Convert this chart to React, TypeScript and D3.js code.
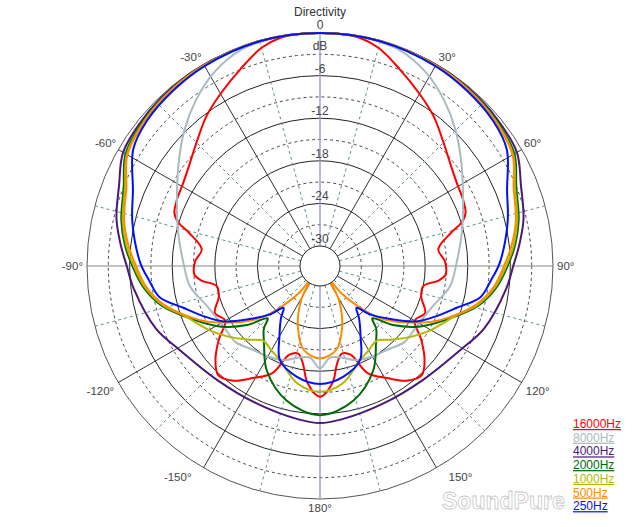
import React from "react";
import * as d3 from "d3";

// dB readings per angle (deg, 0 = front, clockwise), right half; the plot is mirrored
const red16k: [number, number][] = [
  [0, 0], [5, 0], [10, -0.2], [15, -1.0], [22, -2.9], [30, -4.8], [37, -6.3], [44, -8.0], [52, -9.5],
  [59, -10.3], [65, -10.6], [70, -11.0], [73, -12.0], [76, -13.9], [82, -16.0], [88, -15.2],
  [94, -15.1], [97, -16.0], [101, -18.0], [107, -17.9], [114, -16.6], [120, -17.4], [126, -15.2],
  [132, -13.0], [137, -11.8], [143, -12.6], [149, -14.4], [156, -16.3], [161, -19.6], [166, -20.1],
  [170, -18.9], [174, -16.2], [180, -14.4],
];
const gray8k: [number, number][] = [
  [0, 0], [6, 0], [12, -0.05], [20, -0.4], [29, -1.8], [37, -3.7], [45, -5.8], [54, -8.2], [64, -10.4],
  [76, -12.2], [89, -13.6], [99, -14.3], [110, -16.0], [124, -16.8], [132, -16.8], [140, -17.6],
  [148, -18.0], [159, -18.6], [167, -19.6], [174, -19.8], [180, -18.4],
];
const purple4k: [number, number][] = [
  [0, 0], [15, 0], [30, -0.1], [40, -0.2], [50, -0.4], [60, -0.8], [68, -2.3], [77, -3.4], [84, -4.6],
  [90, -5.6], [97, -6.4], [111, -8.1], [121, -9.8], [138, -11.2], [155, -11.5], [172, -11.0], [180, -10.7],
];
const green2k: [number, number][] = [
  [0, 0], [15, 0], [30, -0.15], [40, -0.3], [50, -0.6], [60, -1.2], [68, -3.0], [77, -4.1], [84, -5.2],
  [90, -6.4], [97, -7.8], [104, -9.8], [110, -12.3], [121, -16.3], [129, -19.6], [135, -22.4],
  [138, -21.0], [144, -19.4], [153, -16.3], [166, -13.3], [180, -11.8],
];
const yellow1k: [number, number][] = [
  [0, 0], [15, 0], [30, -0.2], [40, -0.35], [50, -0.7], [60, -1.4], [68, -3.2], [77, -4.3], [84, -5.4],
  [90, -6.6], [97, -8.0], [104, -10.0], [110, -12.4], [121, -15.0], [128, -16.6], [136, -18.4],
  [143, -19.6], [150, -19.1], [157, -18.4], [169, -16.0], [180, -15.1],
];
const orange500: [number, number][] = [
  [0, 0], [15, 0], [30, -0.2], [40, -0.4], [50, -0.8], [60, -1.5], [68, -3.4], [77, -4.5], [84, -5.7],
  [90, -6.9], [97, -8.2], [104, -10.2], [110, -12.6], [116, -15.0], [122, -17.8], [127, -19.9],
  [132, -22.1], [137, -25.2], [142, -28.0], [146, -31], [149, -28.5], [152, -26.9], [160, -23.7],
  [169, -20.8], [180, -19.8],
];
const blue250: [number, number][] = [
  [0, 0], [15, -0.05], [30, -0.3], [40, -0.6], [50, -1.0], [58, -1.8], [68, -4.4], [77, -5.7], [89, -7.5],
  [95, -8.7], [101, -9.8], [107, -12.7], [114, -15.2], [120, -17.2], [127, -20.4], [134, -23.0],
  [139, -25.0], [143, -23.7], [150, -21.4], [157, -18.4], [168, -16.9], [180, -16.2],
];

const seriesNames = ["16000Hz", "8000Hz", "4000Hz", "2000Hz", "1000Hz", "500Hz", "250Hz"];
const seriesData = [red16k, gray8k, purple4k, green2k, yellow1k, orange500, blue250];
const seriesColors = ["#ff0000", "#a9bbc0", "#4b1878", "#006a00", "#b4b800", "#ff8c00", "#0010ff"];

const dbTicks = [-6, -12, -18, -24, -30];
const angleTicks = [0, 30, 60, 90, 120, 150, 180, -150, -120, -90, -60, -30];

const cx = 320;
const cy = 266;
const R = 233;
const font = "'Liberation Sans', Arial, sans-serif";

const rScale = d3.scaleLinear().domain([-30, 0]).range([20, R]);

const polar = (deg: number, r: number) => {
  const a = (deg * Math.PI) / 180;
  return [cx + r * Math.sin(a), cy - r * Math.cos(a)];
};

const mirror = (half: [number, number][]) => [
  ...half,
  ...half.slice(1, -1).reverse().map(([a, v]) => [360 - a, v] as [number, number]),
];

const line = d3
  .lineRadial<[number, number]>()
  .angle((d) => (d[0] * Math.PI) / 180)
  .radius((d) => rScale(d[1]))
  .curve(d3.curveCatmullRomClosed.alpha(0.5));

const labelPos = (a: number) => {
  const [ex, ey] = polar(a, R);
  const side = a < 0 ? -1 : 1;
  const anchor = a === 0 || a === 180 ? "middle" : a < 0 ? "end" : "start";
  const abs = Math.abs(a);
  if (a === 0) return { x: cx, y: ey - 8, anchor };
  if (a === 180) return { x: cx, y: ey + 9, anchor };
  if (abs === 90) return { x: ex + side * 4, y: ey, anchor };
  if (abs < 90) return { x: ex + side * 2, y: ey - 7, anchor };
  if (abs === 120) return { x: ex + side * 4, y: ey + 8, anchor };
  return { x: ex + side * 12, y: ey + 9, anchor };
};

export default function App() {
  const rings = d3.range(-27, 1, 3);
  const spokes = d3.range(0, 360, 15).filter((a) => a % 90 !== 0);

  return (
    <div style={{ position: "absolute", left: 0, top: 0 }}>
      <svg width={640} height={527} style={{ display: "block", background: "#fff" }}>
        {/* rings */}
        {rings.map((db) => (
          <circle
            key={db}
            cx={cx}
            cy={cy}
            r={rScale(db)}
            fill="none"
            stroke={db === 0 ? "#555" : db % 6 === 0 ? "#222" : "#444"}
            strokeWidth={1}
            strokeDasharray={db % 6 === 0 ? undefined : "3,3"}
          />
        ))}
        {/* spokes */}
        {spokes.map((a) => {
          const [x1, y1] = polar(a, 20);
          const [x2, y2] = polar(a, R);
          const solid = a % 30 === 0;
          return (
            <line
              key={a}
              x1={x1}
              y1={y1}
              x2={x2}
              y2={y2}
              stroke={solid ? "#333" : "#5f8f96"}
              strokeWidth={1}
              strokeDasharray={solid ? undefined : "3,3"}
            />
          );
        })}
        <line x1={cx - R} y1={cy} x2={cx + R} y2={cy} stroke="#888" strokeWidth={1.2} />
        <line x1={cx} y1={cy - R} x2={cx} y2={cy + R} stroke="#9a9ad0" strokeWidth={1.4} />

        {/* curves */}
        {seriesData.map((d, i) => (
          <path
            key={seriesNames[i]}
            d={line(mirror(d)) ?? ""}
            transform={`translate(${cx},${cy})`}
            fill="none"
            stroke={seriesColors[i]}
            strokeWidth={2}
          />
        ))}

        <circle cx={cx} cy={cy} r={20} fill="#fff" stroke="#222" strokeWidth={1} />

        {/* dB labels */}
        <g fontFamily={font} fontSize={12} fill="#444" textAnchor="middle">
          <text x={cx} y={16} fill="#333">Directivity</text>
          <text x={cx} y={29}>0</text>
          <text x={cx} y={50}>dB</text>
          {dbTicks.map((db) => (
            <text key={db} x={cx} y={cy - rScale(db) - 3}>
              {db}
            </text>
          ))}
        </g>

        {/* angle labels */}
        <g fontFamily={font} fontSize={11.5} fill="#444">
          {angleTicks
            .filter((a) => a !== 0)
            .map((a) => {
              const p = labelPos(a);
              return (
                <text key={a} x={p.x} y={p.y} textAnchor={p.anchor} dominantBaseline="central">
                  {`${a}°`}
                </text>
              );
            })}
        </g>

        {/* watermark */}
        <text
          x={442}
          y={509}
          fontFamily={font}
          fontWeight="bold"
          fontSize={23}
          fill="#ffffff"
          fillOpacity={0.7}
          stroke="#c8c8c8"
          strokeWidth={0.8}
        >
          SoundPure
        </text>

        {/* legend */}
        <g fontFamily={font} fontSize={12}>
          {seriesNames.map((name, i) => (
            <text
              key={name}
              x={573}
              y={428 + i * 13.7}
              fill={seriesColors[i]}
              textDecoration="underline"
            >
              {name}
            </text>
          ))}
        </g>
      </svg>
    </div>
  );
}
